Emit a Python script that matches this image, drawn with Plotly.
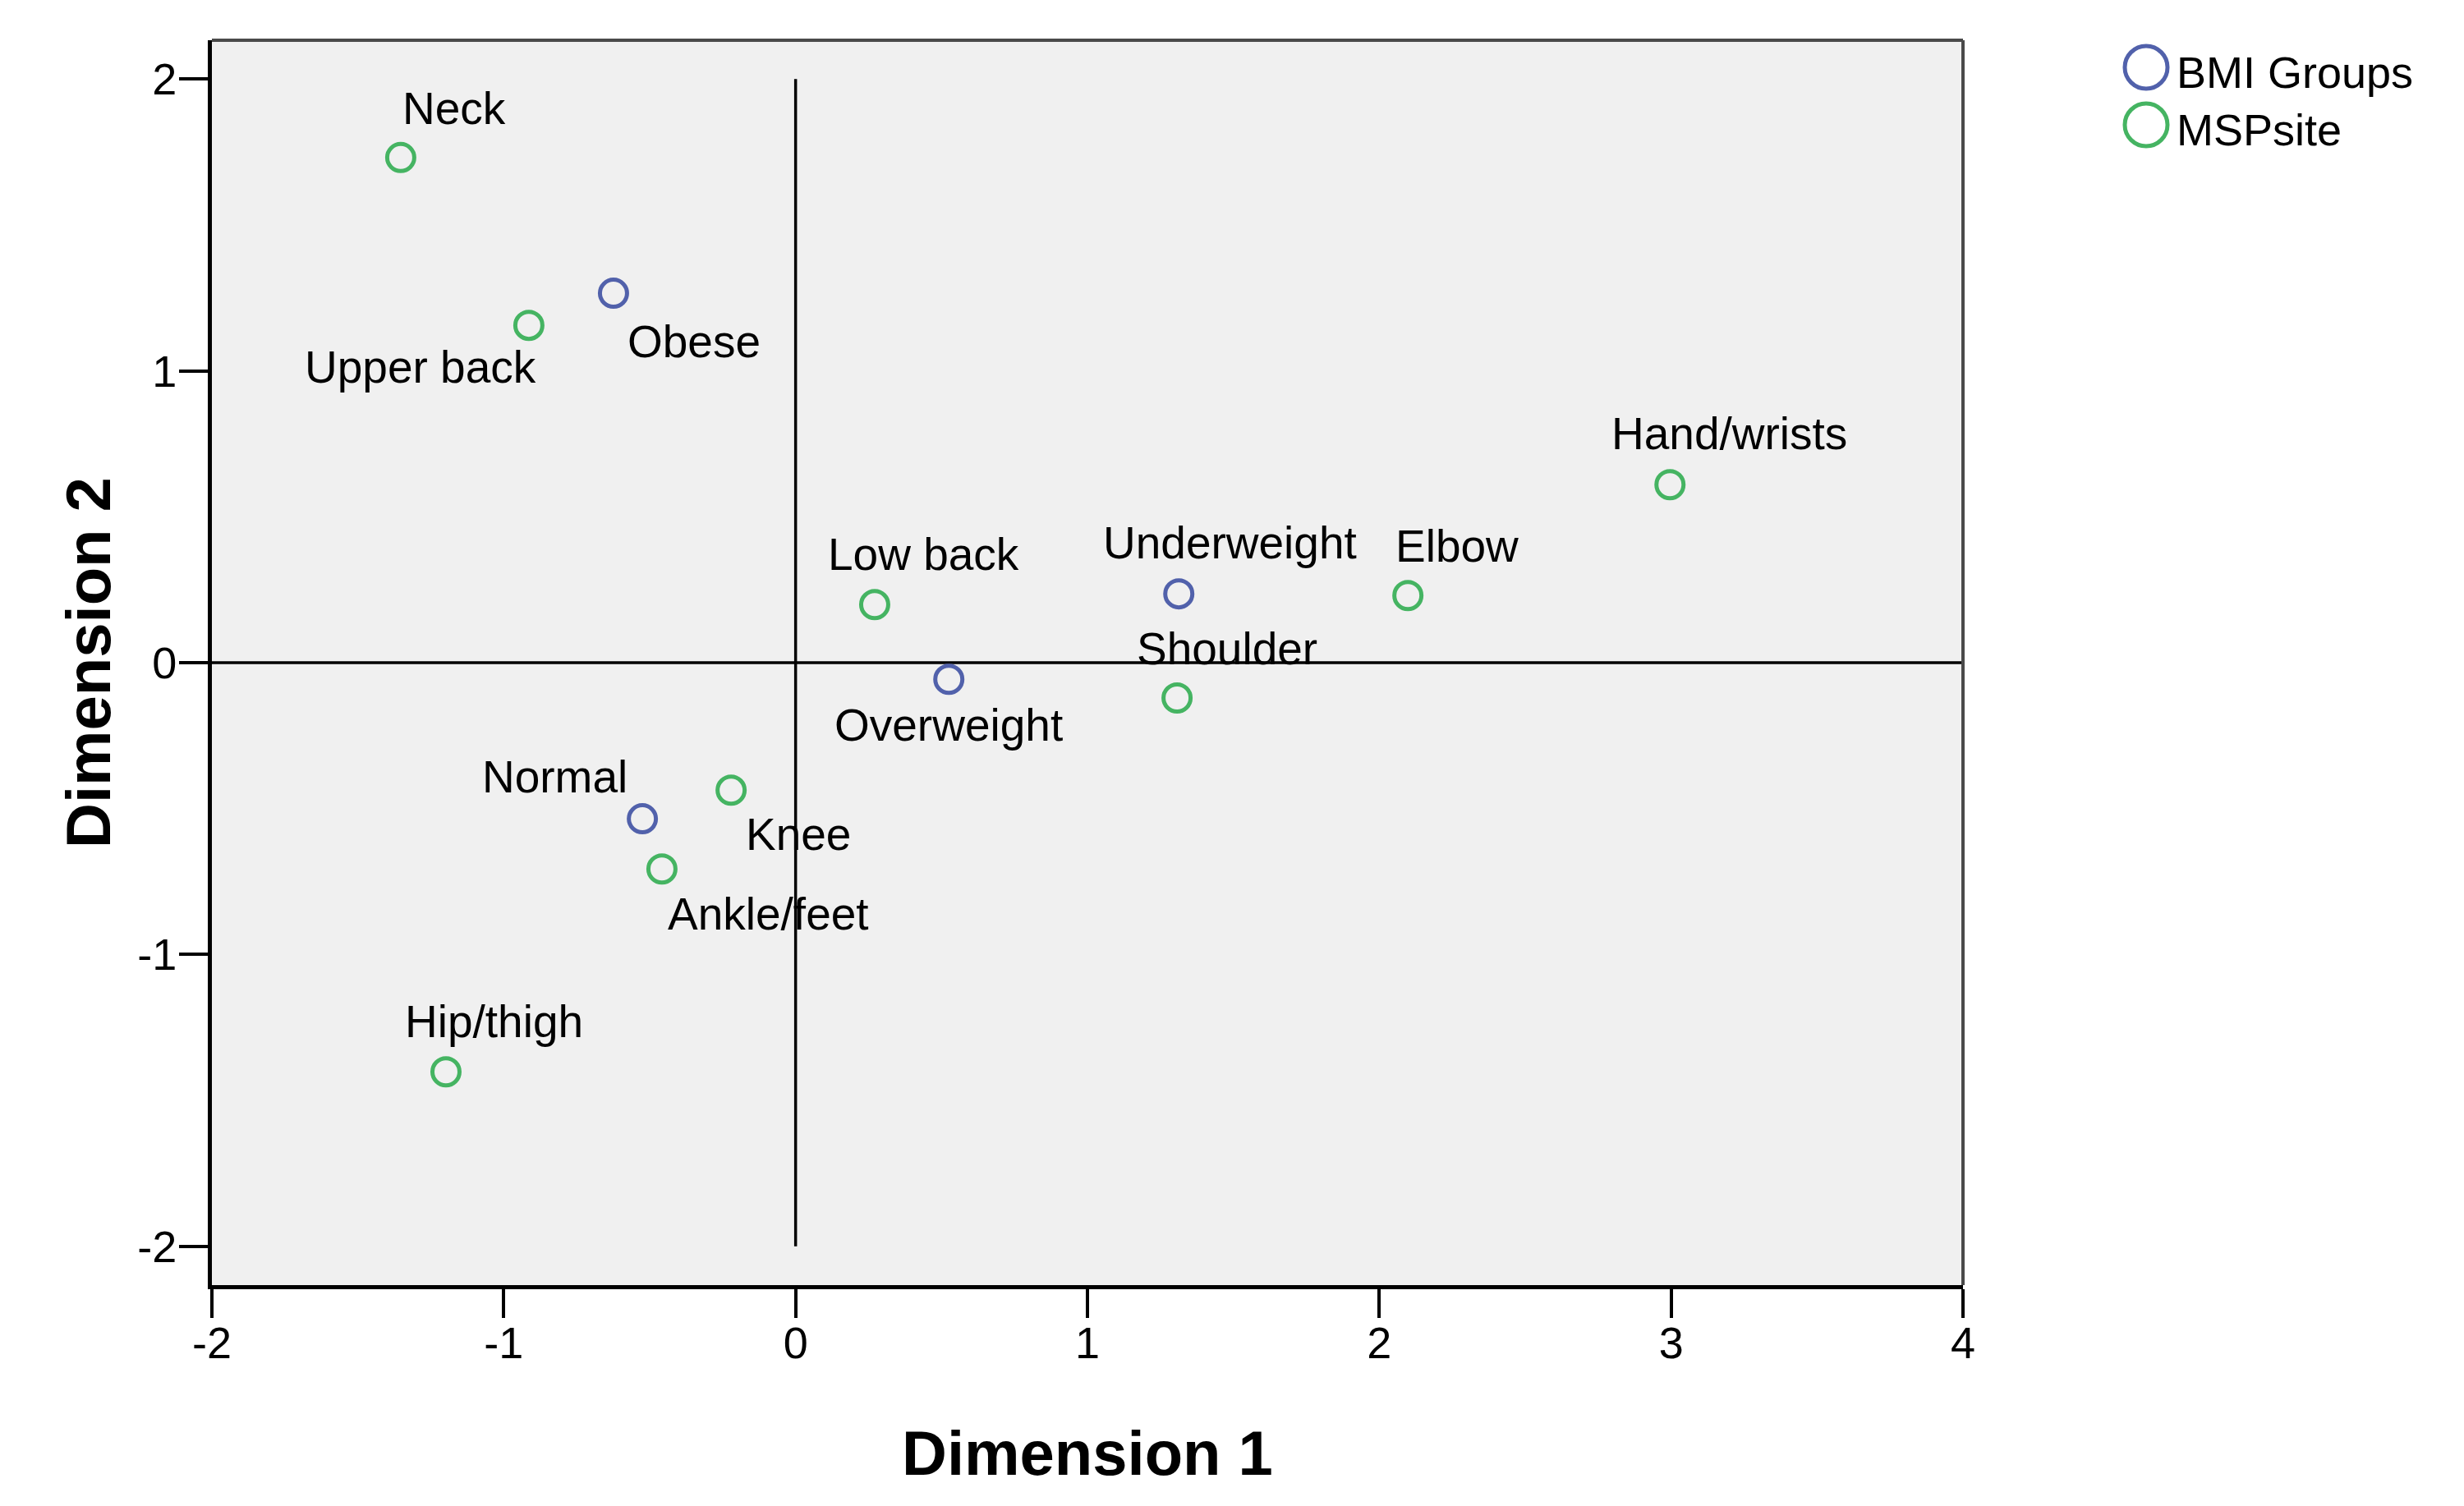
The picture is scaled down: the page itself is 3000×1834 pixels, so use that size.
import plotly.graph_objects as go

# category points
msp_names = ["Neck", "Upper back", "Low back", "Shoulder", "Elbow",
             "Hand/wrists", "Hip/thigh", "Knee", "Ankle/feet"]
msp_dim1 = [-1.353, -0.914, 0.271, 1.307, 2.098, 2.996, -1.198, -0.221, -0.458]
msp_dim2 = [1.731, 1.156, 0.199, -0.121, 0.230, 0.610, -1.402, -0.437, -0.707]

bmi_names = ["Underweight", "Normal", "Overweight", "Obese"]
bmi_dim1 = [1.313, -0.525, 0.525, -0.624]
bmi_dim2 = [0.236, -0.535, -0.057, 1.266]

x_ticks = [-2, -1, 0, 1, 2, 3, 4]
y_ticks = [-2, -1, 0, 1, 2]

# label offsets in pixels (dx right, dy down), like SPSS places them
msp_offsets = [(65, -60), (-132, 51), (60, -61), (61, -60), (60, -60),
               (72, -62), (59, -61), (82, 54), (130, 55)]
bmi_offsets = [(62, -62), (-107, -51), (0, 56), (98, 59)]

BLUE = "#5161ab"
GREEN = "#45b462"
FONT = "Liberation Sans"

fig = go.Figure()

for name, xs, ys, col in [("BMI Groups", bmi_dim1, bmi_dim2, BLUE),
                          ("MSPsite", msp_dim1, msp_dim2, GREEN)]:
    fig.add_trace(go.Scatter(
        x=xs, y=ys, mode="markers", name=name,
        marker=dict(symbol="circle", size=33, color="rgba(0,0,0,0)",
                    line=dict(color=col, width=5)),
        showlegend=False))

annotations = []
for names, xs, ys, offs in [(msp_names, msp_dim1, msp_dim2, msp_offsets),
                            (bmi_names, bmi_dim1, bmi_dim2, bmi_offsets)]:
    for n, x, y, (dx, dy) in zip(names, xs, ys, offs):
        annotations.append(dict(
            x=x, y=y, xref="x", yref="y", text=n, showarrow=False,
            xshift=dx, yshift=-dy, xanchor="center", yanchor="middle",
            font=dict(family=FONT, size=55, color="black")))

# axis titles
annotations.append(dict(x=0.5, y=0, xref="paper", yref="paper", text="<b>Dimension 1</b>",
                        showarrow=False, yshift=-204, yanchor="middle",
                        font=dict(family=FONT, size=76, color="black")))
annotations.append(dict(x=0, y=0.5, xref="paper", yref="paper", text="<b>Dimension 2</b>",
                        showarrow=False, xshift=-151, xanchor="center", textangle=-90,
                        font=dict(family=FONT, size=76, color="black")))

# hand-made legend (plotly caps legend marker size)
shapes = []
for i, (name, col) in enumerate([("BMI Groups", BLUE), ("MSPsite", GREEN)]):
    cy = -33 - 70 * i
    shapes.append(dict(type="circle", xref="paper", yref="paper",
                       xsizemode="pixel", ysizemode="pixel", xanchor=1, yanchor=1,
                       x0=197, x1=249, y0=cy - 26, y1=cy + 26,
                       line=dict(color=col, width=5)))
    annotations.append(dict(x=1, y=1, xref="paper", yref="paper", text=name,
                            showarrow=False, xshift=258, yshift=cy - 6,
                            xanchor="left", yanchor="middle",
                            font=dict(family=FONT, size=54, color="black")))

# reference lines at the origin
shapes.append(dict(type="line", xref="paper", yref="y", x0=0, x1=1, y0=0, y1=0,
                   line=dict(color="black", width=3.5), layer="below"))
shapes.append(dict(type="line", xref="x", yref="y", x0=0, x1=0, y0=-2, y1=2,
                   line=dict(color="black", width=3.5), layer="below"))
# top and right frame
shapes.append(dict(type="line", xref="paper", yref="paper", x0=0, x1=1, y0=1, y1=1,
                   line=dict(color="#4a4a4a", width=4)))
shapes.append(dict(type="line", xref="paper", yref="paper", x0=1, x1=1, y0=0, y1=1,
                   line=dict(color="#4a4a4a", width=4)))

fig.update_layout(
    width=3000, height=1834,
    # the page body adds 8px, so margins are trimmed by that much
    margin=dict(l=250, r=618, t=41, b=277),
    paper_bgcolor="white", plot_bgcolor="#f0f0f0",
    annotations=annotations, shapes=shapes,
    font=dict(family=FONT, size=54, color="black"),
    xaxis=dict(range=[-2, 4], tickvals=x_ticks, ticktext=[str(v) for v in x_ticks],
               ticks="outside", ticklen=35, ticklabelstandoff=-16,
               tickwidth=4, tickcolor="black", showline=True, linecolor="black",
               linewidth=5, showgrid=False, zeroline=False,
               tickfont=dict(family=FONT, size=54, color="black")),
    yaxis=dict(range=[-2.133, 2.133], tickvals=y_ticks, ticktext=[str(v) for v in y_ticks],
               ticks="outside", ticklen=35, ticklabelstandoff=-8,
               tickwidth=4, tickcolor="black", showline=True, linecolor="black",
               linewidth=5, showgrid=False, zeroline=False,
               tickfont=dict(family=FONT, size=54, color="black")),
)

fig.write_html("out.html")
